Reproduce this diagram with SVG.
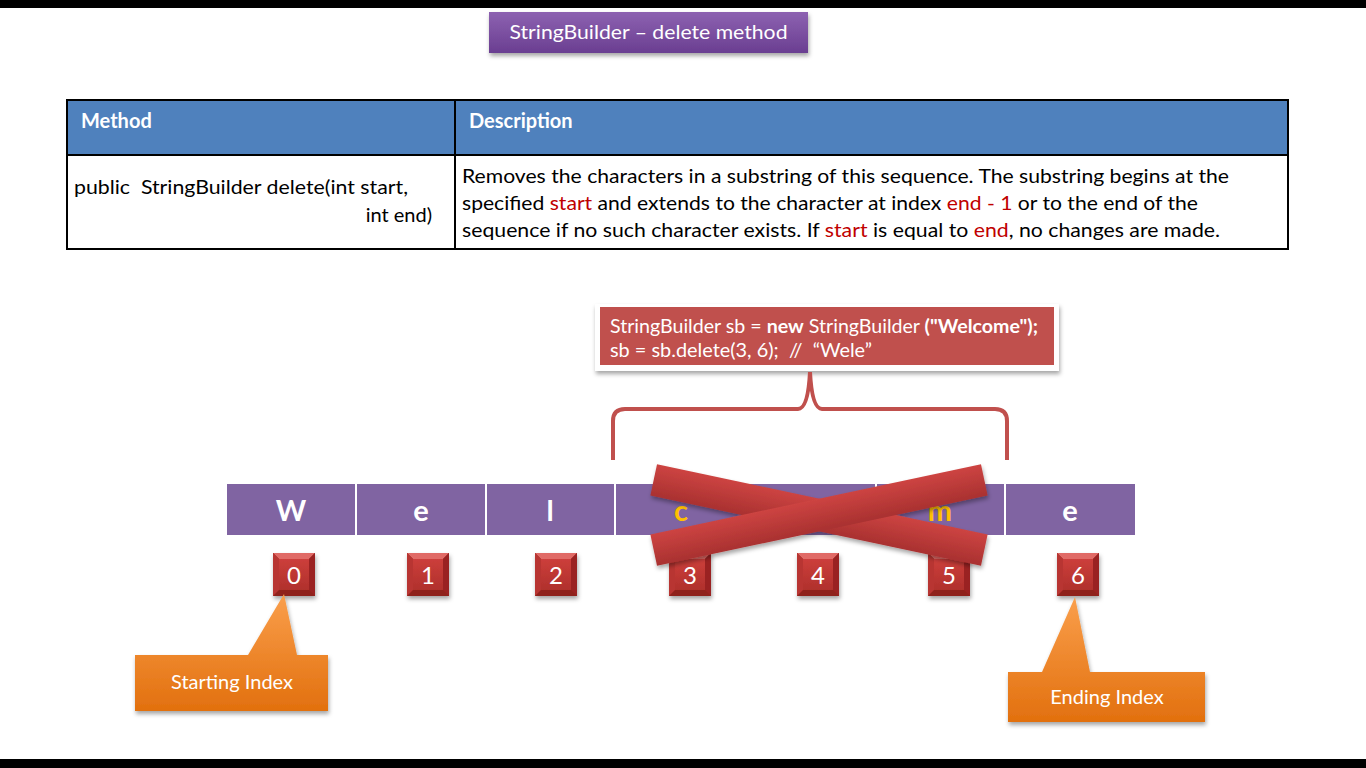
<svg xmlns="http://www.w3.org/2000/svg" width="1366" height="768" viewBox="0 0 1366 768">
<defs>
<style>
.cal{font-family:Lato,"Open Sans","Liberation Sans",sans-serif}
.wt{fill:#ffffff}
.bk{fill:#000000}
.rd{fill:#c00000}
.cell{fill:#8064a2}
.letter{font-family:Lato,"Open Sans","Liberation Sans",sans-serif;font-weight:bold;font-size:29px;fill:#ffffff;text-anchor:middle}
.orl{fill:#ffc000}
.idx{font-family:Lato,"Open Sans","Liberation Sans",sans-serif;font-size:24px;fill:#ffffff;text-anchor:middle}
.pre{white-space:pre}
</style>
<linearGradient id="gPurple" x1="0" y1="0" x2="0" y2="1">
<stop offset="0" stop-color="#8d62b1"/><stop offset="1" stop-color="#6a3e91"/>
</linearGradient>
<linearGradient id="gOrange" x1="0" y1="0" x2="0" y2="1">
<stop offset="0" stop-color="#fa9f4c"/><stop offset="1" stop-color="#e2700e"/>
</linearGradient>
<linearGradient id="gBar" x1="0" y1="0" x2="0" y2="1">
<stop offset="0" stop-color="#cd4442"/><stop offset="1" stop-color="#a93130"/>
</linearGradient>
<linearGradient id="gIdx" x1="0" y1="0" x2="0" y2="1">
<stop offset="0" stop-color="#cc3f3b"/><stop offset="1" stop-color="#b0302c"/>
</linearGradient>
<filter id="sh" x="-10%" y="-10%" width="130%" height="140%">
<feDropShadow dx="1" dy="3" stdDeviation="2" flood-color="#000" flood-opacity="0.35"/>
</filter>
<g id="idxbox">
<rect x="0" y="0" width="42" height="43" fill="#8f201d"/>
<polygon points="0,0 42,0 36,6 6,6" fill="#e06a66"/>
<polygon points="0,0 6,6 6,37 0,43" fill="#b83632"/>
<polygon points="42,0 36,6 36,37 42,43" fill="#9a2420"/>
<rect x="6" y="6" width="30" height="31" fill="url(#gIdx)"/>
</g>
</defs>

<rect x="0" y="0" width="1366" height="768" fill="#ffffff"/>
<rect x="0" y="0" width="1366" height="8" fill="#000000"/>
<rect x="0" y="759" width="1366" height="9" fill="#000000"/>

<g id="title">
<rect x="489" y="12" width="319" height="41" fill="url(#gPurple)" filter="url(#sh)"/>
<text x="648.5" y="39" class="cal wt" font-size="20" text-anchor="middle" textLength="278" lengthAdjust="spacingAndGlyphs">StringBuilder – delete method</text>
</g>

<g id="table">
<rect x="67" y="100" width="1221" height="55" fill="#4f81bd"/>
<rect x="67" y="100" width="1221" height="149" fill="none" stroke="#000" stroke-width="2"/>
<line x1="67" y1="155" x2="1288" y2="155" stroke="#000" stroke-width="2"/>
<line x1="455" y1="100" x2="455" y2="249" stroke="#000" stroke-width="2"/>
<text x="81" y="128" class="cal wt" font-size="20" font-weight="bold">Method</text>
<text x="469" y="128" class="cal wt" font-size="20" font-weight="bold">Description</text>
<text x="74" y="194" class="cal bk pre" font-size="20" textLength="334" lengthAdjust="spacingAndGlyphs">public  StringBuilder delete(int start,</text>
<text x="432" y="222" class="cal bk" font-size="20" text-anchor="end">int end)</text>
<text x="462" y="183" class="cal bk" font-size="20" textLength="767" lengthAdjust="spacingAndGlyphs">Removes the characters in a substring of this sequence. The substring begins at the</text>
<text x="462" y="210" class="cal bk" font-size="20" textLength="736" lengthAdjust="spacingAndGlyphs">specified <tspan class="rd">start</tspan> and extends to the character at index <tspan class="rd">end - 1</tspan> or to the end of the</text>
<text x="462" y="237" class="cal bk" font-size="20" textLength="758" lengthAdjust="spacingAndGlyphs">sequence if no such character exists. If <tspan class="rd">start</tspan> is equal to <tspan class="rd">end</tspan>, no changes are made.</text>
</g>

<g id="code">
<rect x="595" y="304" width="464" height="67" fill="#ffffff" filter="url(#sh)"/>
<rect x="600" y="307" width="454" height="58" fill="#c0504d"/>
<text x="610" y="333" class="cal wt pre" font-size="19" textLength="428" lengthAdjust="spacingAndGlyphs">StringBuilder sb = <tspan font-weight="bold">new</tspan> StringBuilder <tspan font-weight="bold">("Welcome");</tspan></text>
<text x="610" y="357" class="cal wt pre" font-size="19" textLength="262" lengthAdjust="spacingAndGlyphs">sb = sb.delete(3, 6);  //  “Wele”</text>
</g>

<g id="connectors">
<path d="M613,460 V421 Q613,409 625,409 H798 Q808,409 810,372 Q812,409 822,409 H995 Q1007,409 1007,421 V460" fill="none" stroke="#c0504d" stroke-width="4"/>
</g>

<g id="cells">
<rect x="227" y="484" width="128" height="51" class="cell"/>
<rect x="357" y="484" width="128" height="51" class="cell"/>
<rect x="487" y="484" width="127" height="51" class="cell"/>
<rect x="616" y="484" width="129" height="51" class="cell"/>
<rect x="747" y="484" width="128" height="51" class="cell"/>
<rect x="877" y="484" width="127" height="51" class="cell"/>
<rect x="1006" y="484" width="129" height="51" class="cell"/>
<text x="291" y="521" class="letter">W</text>
<text x="421" y="521" class="letter">e</text>
<text x="550" y="521" class="letter">l</text>
<text x="681" y="521" class="letter orl">c</text>
<text x="940" y="521" class="letter orl">m</text>
<text x="1070" y="521" class="letter">e</text>
</g>

<g id="indices">
<use href="#idxbox" x="273" y="553" filter="url(#sh)"/>
<use href="#idxbox" x="407" y="553" filter="url(#sh)"/>
<use href="#idxbox" x="535" y="553" filter="url(#sh)"/>
<use href="#idxbox" x="669" y="553" filter="url(#sh)"/>
<use href="#idxbox" x="797" y="553" filter="url(#sh)"/>
<use href="#idxbox" x="928" y="553" filter="url(#sh)"/>
<use href="#idxbox" x="1057" y="553" filter="url(#sh)"/>
<text x="294" y="584" class="idx">0</text>
<text x="428" y="584" class="idx">1</text>
<text x="556" y="584" class="idx">2</text>
<text x="690" y="584" class="idx">3</text>
<text x="818" y="584" class="idx">4</text>
<text x="949" y="584" class="idx">5</text>
<text x="1078" y="584" class="idx">6</text>
</g>

<g id="cross" filter="url(#sh)">
<rect x="-169" y="-16" width="338" height="32" fill="url(#gBar)" transform="translate(819,515) rotate(12)"/>
<rect x="-169" y="-16" width="338" height="32" fill="url(#gBar)" transform="translate(819,515) rotate(-12)"/>
</g>

<g id="start-callout">
<path d="M135,655 H248 L284,594 L297,655 H328 V711 H135 Z" fill="url(#gOrange)" filter="url(#sh)"/>
<text x="232" y="689" class="cal wt" font-size="20" text-anchor="middle">Starting Index</text>
</g>

<g id="end-callout">
<path d="M1008,672 H1042 L1075,597 L1090,672 H1205 V722 H1008 Z" fill="url(#gOrange)" filter="url(#sh)"/>
<text x="1107" y="704" class="cal wt" font-size="20" text-anchor="middle">Ending Index</text>
</g>
</svg>
